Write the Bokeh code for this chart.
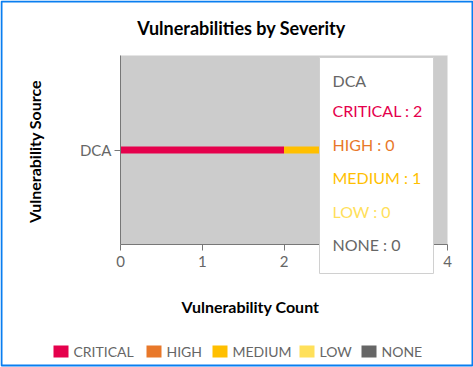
from bokeh.plotting import figure
from bokeh.models import Range1d, FixedTicker, Label, BoxAnnotation, ColumnDataSource
from bokeh.embed import file_html
from bokeh.resources import INLINE

sources = ["DCA"]
severities = ["CRITICAL", "HIGH", "MEDIUM", "LOW", "NONE"]
counts = {"CRITICAL": [2], "HIGH": [0], "MEDIUM": [1], "LOW": [0], "NONE": [0]}
colors = ["#E5004C", "#E8782A", "#FFBF00", "#FFE05A", "#666666"]
x_ticks = [0, 1, 2, 3, 4]
x_max = 4
title = "Vulnerabilities by Severity"
x_label = "Vulnerability Count"
y_label = "Vulnerability Source"

W, H = 473, 367
FL, FR, FT, FB = 120, 447, 55, 244   # plot-area pixel edges
n = len(sources)
xs = (FR - FL) / x_max
ys = (FB - FT) / n

p = figure(width=W, height=H, output_backend="svg", toolbar_location=None,
           x_range=Range1d(-FL / xs, x_max + (W - FR) / xs),
           y_range=Range1d(-(H - FB) / ys, n + FT / ys),
           min_border=0, min_border_left=0, min_border_right=0,
           min_border_top=0, min_border_bottom=0)
p.title.visible = False
p.background_fill_color = "white"
p.border_fill_color = "white"
p.outline_line_color = None
p.grid.visible = False

# plot area
p.add_layout(BoxAnnotation(left=0, right=x_max, bottom=0, top=n, fill_color="#cccccc",
                           fill_alpha=1, line_color="#e6e6e6", line_dash="3 2",
                           line_width=1, level="underlay"))

ypos = [i + 0.5 for i in range(n)]
data = {"y": ypos}
data.update(counts)
src = ColumnDataSource(data)
p.hbar_stack(severities, y="y", height=7 / ys, color=colors, source=src, line_width=0)

for ax in (p.xaxis[0], p.yaxis[0]):
    ax.fixed_location = 0
    ax.axis_line_color = "#777777"
    ax.major_tick_line_color = "#777777"
    ax.major_tick_out = 6
    ax.major_tick_in = 0
    ax.minor_tick_line_color = None
    ax.major_label_text_color = "#666666"
    ax.major_label_text_font = "Lato"
    ax.major_label_text_font_size = "15px"
p.xaxis.ticker = FixedTicker(ticks=x_ticks)
p.xaxis.bounds = (0, x_max)
p.xaxis.major_label_standoff = 5
p.yaxis.ticker = FixedTicker(ticks=ypos)
p.yaxis.major_label_overrides = {y: s for y, s in zip(ypos, sources)}
p.yaxis.bounds = (0, n)
p.yaxis.major_label_standoff = 3

def lab(x, y, text, size="14px", color="#666666", bold=False, align="left", angle=0, level="annotation"):
    p.add_layout(Label(x=x, y=y, x_units="canvas", y_units="canvas", text=text,
                       text_font="Lato", text_font_size=size, text_color=color,
                       text_font_style="bold" if bold else "normal",
                       text_align=align, text_baseline="middle", angle=angle, level=level))

def box(l, r, t, b, fill, line=None, lw=1, level="overlay"):
    p.add_layout(BoxAnnotation(left=l, right=r, top=t, bottom=b,
                               left_units="canvas", right_units="canvas",
                               top_units="canvas", bottom_units="canvas",
                               fill_color=fill, fill_alpha=1 if fill else 0,
                               line_color=line, line_width=lw, line_alpha=1,
                               level=level))

lab(241, 27, title, size="18px", color="black", bold=True, align="center")
lab(250, 306, x_label, size="16px", color="black", bold=True, align="center")
lab(34, 151, y_label, size="16px", color="black", bold=True, align="center", angle=1.5708)

# tooltip
box(319, 433, 57, 273, "white", "#d0d0d0", 1, "overlay")
lab(332, 80, sources[0], size="16px", color="#666666", level="overlay")
ty = [110, 144, 177, 211, 244]
for s, c, yy in zip(severities, colors, ty):
    lab(332, yy, f"{s} : {counts[s][0]}", size="16px", color=c, level="overlay")

# legend
sq = [53, 146, 212, 299, 361]
for s, c, x0 in zip(severities, colors, sq):
    box(x0, x0 + 15, 345, 357, c, None, 0, "annotation")
    lab(x0 + 20, 351, s, size="14px", color="#666666")

# outer border
box(1, 472, 1, 365, None, "#0a7ef0", 2)

html = file_html(p, INLINE)
html = html.replace("<head>", "<head><style>html,body{margin:0;padding:0;overflow:hidden}</style>", 1)
open("out.html", "w").write(html)
